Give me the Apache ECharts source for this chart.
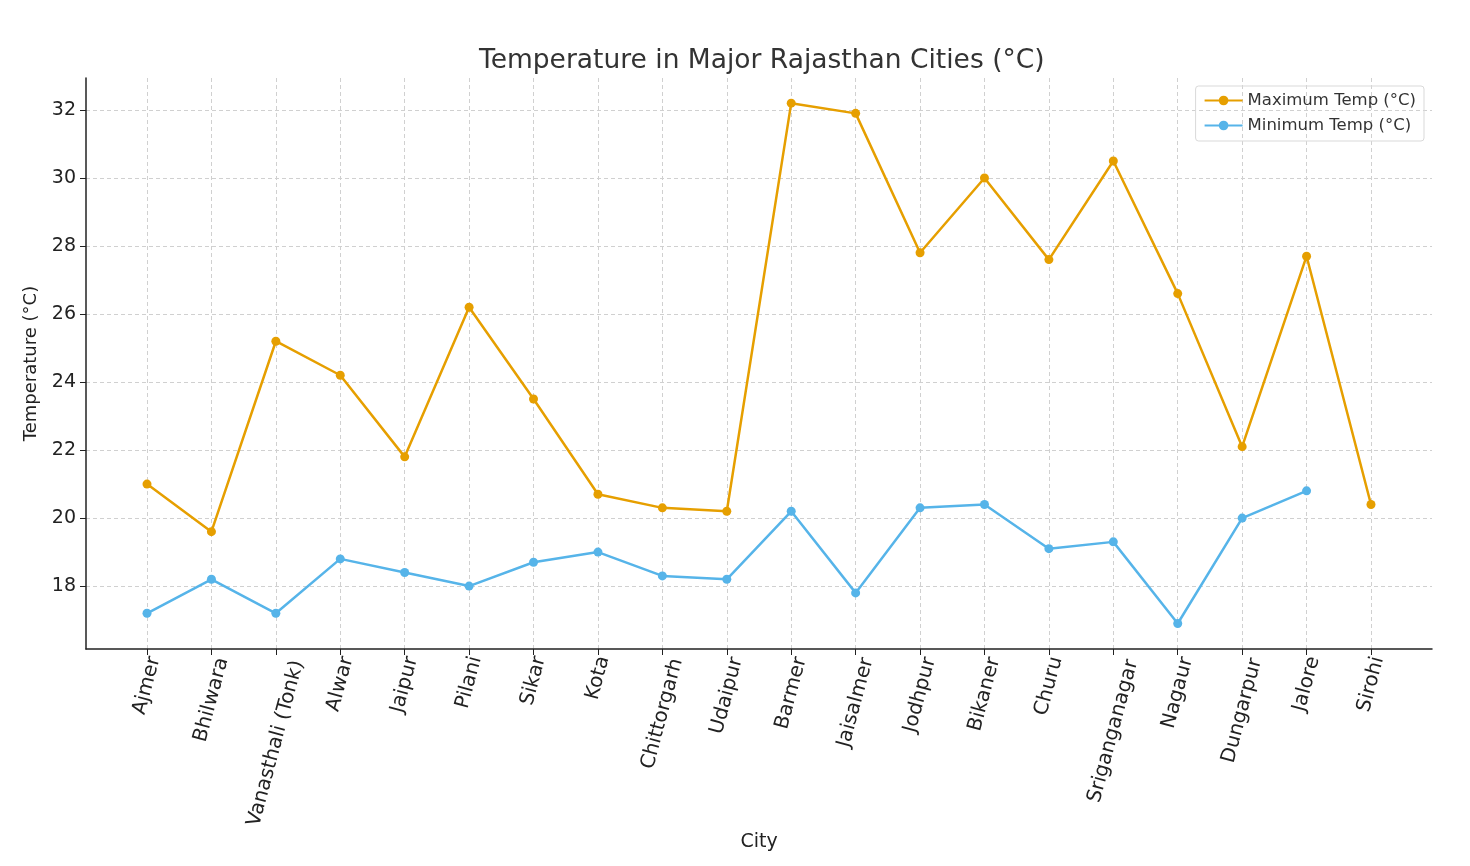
<!DOCTYPE html>
<html>
<head>
<meta charset="utf-8">
<script src="https://cdn.jsdelivr.net/npm/echarts@6/dist/echarts.min.js"></script>
<style>
  html, body { margin: 0; padding: 0; background: #fff; }
  #chart { width: 1470px; height: 866px; }
</style>
</head>
<body>
<div id="chart"></div>
<script>
const cities = ['Ajmer', 'Bhilwara', 'Vanasthali (Tonk)', 'Alwar', 'Jaipur', 'Pilani', 'Sikar', 'Kota',
  'Chittorgarh', 'Udaipur', 'Barmer', 'Jaisalmer', 'Jodhpur', 'Bikaner', 'Churu', 'Sriganganagar',
  'Nagaur', 'Dungarpur', 'Jalore', 'Sirohi'];
const maxTemp = [21.0, 19.6, 25.2, 24.2, 21.8, 26.2, 23.5, 20.7, 20.3, 20.2, 32.2, 31.9, 27.8, 30.0, 27.6, 30.5, 26.6, 22.1, 27.7, 20.4];
const minTemp = [17.2, 18.2, 17.2, 18.8, 18.4, 18.0, 18.7, 19.0, 18.3, 18.2, 20.2, 17.8, 20.3, 20.4, 19.1, 19.3, 16.9, 20.0, 20.8, null];
const yTicks = [18, 20, 22, 24, 26, 28, 30, 32];

const FONT = '"DejaVu Sans", sans-serif';
const LABEL_SIZE = 20;
const cityIdx = cities.map((c, i) => i);

// rotated labels: centre each one's box on its tick (like matplotlib ha=center)
const ctx = document.createElement('canvas').getContext('2d');
ctx.font = LABEL_SIZE + 'px ' + FONT;
const cityRich = {};
cities.forEach((c, i) => {
  const w = ctx.measureText(c).width;
  const shift = 0.1335 * w;
  cityRich['c' + i] = {
    fontFamily: FONT, fontSize: LABEL_SIZE, color: '#222',
    padding: [2 * shift, 0, 0, 0]
  };
});

const chart = echarts.init(document.getElementById('chart'));

const option = {
  backgroundColor: '#fff',
  animation: false,
  title: {
    text: 'Temperature in Major Rajasthan Cities (°C)',
    left: 474,
    top: 43,
    textStyle: { fontFamily: FONT, fontSize: 26.5, fontWeight: 'normal', color: '#333' }
  },
  legend: {
    right: 46,
    top: 86,
    orient: 'vertical',
    itemGap: 8,
    itemWidth: 38,
    itemHeight: 12,
    padding: [6, 8, 7, 8],
    borderColor: '#d9d9d9',
    borderWidth: 1,
    borderRadius: 3,
    textStyle: { fontFamily: FONT, fontSize: 16.5, color: '#333' },
    data: ['Maximum Temp (°C)', 'Minimum Temp (°C)']
  },
  grid: { left: 86, right: 38, top: 78, bottom: 217 },
  xAxis: {
    type: 'value',
    min: -0.947,
    max: 19.947,
    name: 'City',
    nameLocation: 'middle',
    nameGap: 184,
    nameMoveOverlap: false,
    nameTextStyle: { fontFamily: FONT, fontSize: 19, color: '#222' },
    axisLine: { show: true, onZero: false, lineStyle: { color: '#222', width: 1.5 } },
    axisTick: { show: true, customValues: cityIdx, length: 6, lineStyle: { color: '#222' } },
    axisLabel: {
      customValues: cityIdx,
      rotate: 75,
      margin: 6,
      fontFamily: FONT,
      fontSize: LABEL_SIZE,
      color: '#222',
      formatter: v => {
        const i = Math.round(v);
        return '{c' + i + '|' + cities[i] + '}';
      },
      rich: cityRich
    },
    splitLine: { show: true, lineStyle: { color: '#d0d0d0', type: [4, 3], width: 1 } }
  },
  yAxis: {
    type: 'value',
    min: 16.15,
    max: 32.94,
    name: 'Temperature (°C)',
    nameLocation: 'middle',
    nameGap: 46,
    nameTextStyle: { fontFamily: FONT, fontSize: 18, color: '#222' },
    axisLine: { show: true, onZero: false, lineStyle: { color: '#222', width: 1.5 } },
    axisTick: { show: true, customValues: yTicks, length: 6, lineStyle: { color: '#222' } },
    axisLabel: { customValues: yTicks, margin: 10, fontFamily: FONT, fontSize: 19, color: '#222' },
    splitLine: { show: true, lineStyle: { color: '#d0d0d0', type: [4, 3], width: 1 } }
  },
  series: [
    {
      name: 'Maximum Temp (°C)',
      type: 'line',
      data: maxTemp.map((v, i) => [i, v]),
      symbol: 'circle',
      symbolSize: 9,
      color: '#E69F00',
      lineStyle: { width: 2.5, color: '#E69F00' },
      itemStyle: { color: '#E69F00' }
    },
    {
      name: 'Minimum Temp (°C)',
      type: 'line',
      data: minTemp.map((v, i) => [i, v]),
      connectNulls: false,
      symbol: 'circle',
      symbolSize: 9,
      color: '#56B4E9',
      lineStyle: { width: 2.5, color: '#56B4E9' },
      itemStyle: { color: '#56B4E9' }
    }
  ]
};

chart.setOption(option);
</script>
</body>
</html>
